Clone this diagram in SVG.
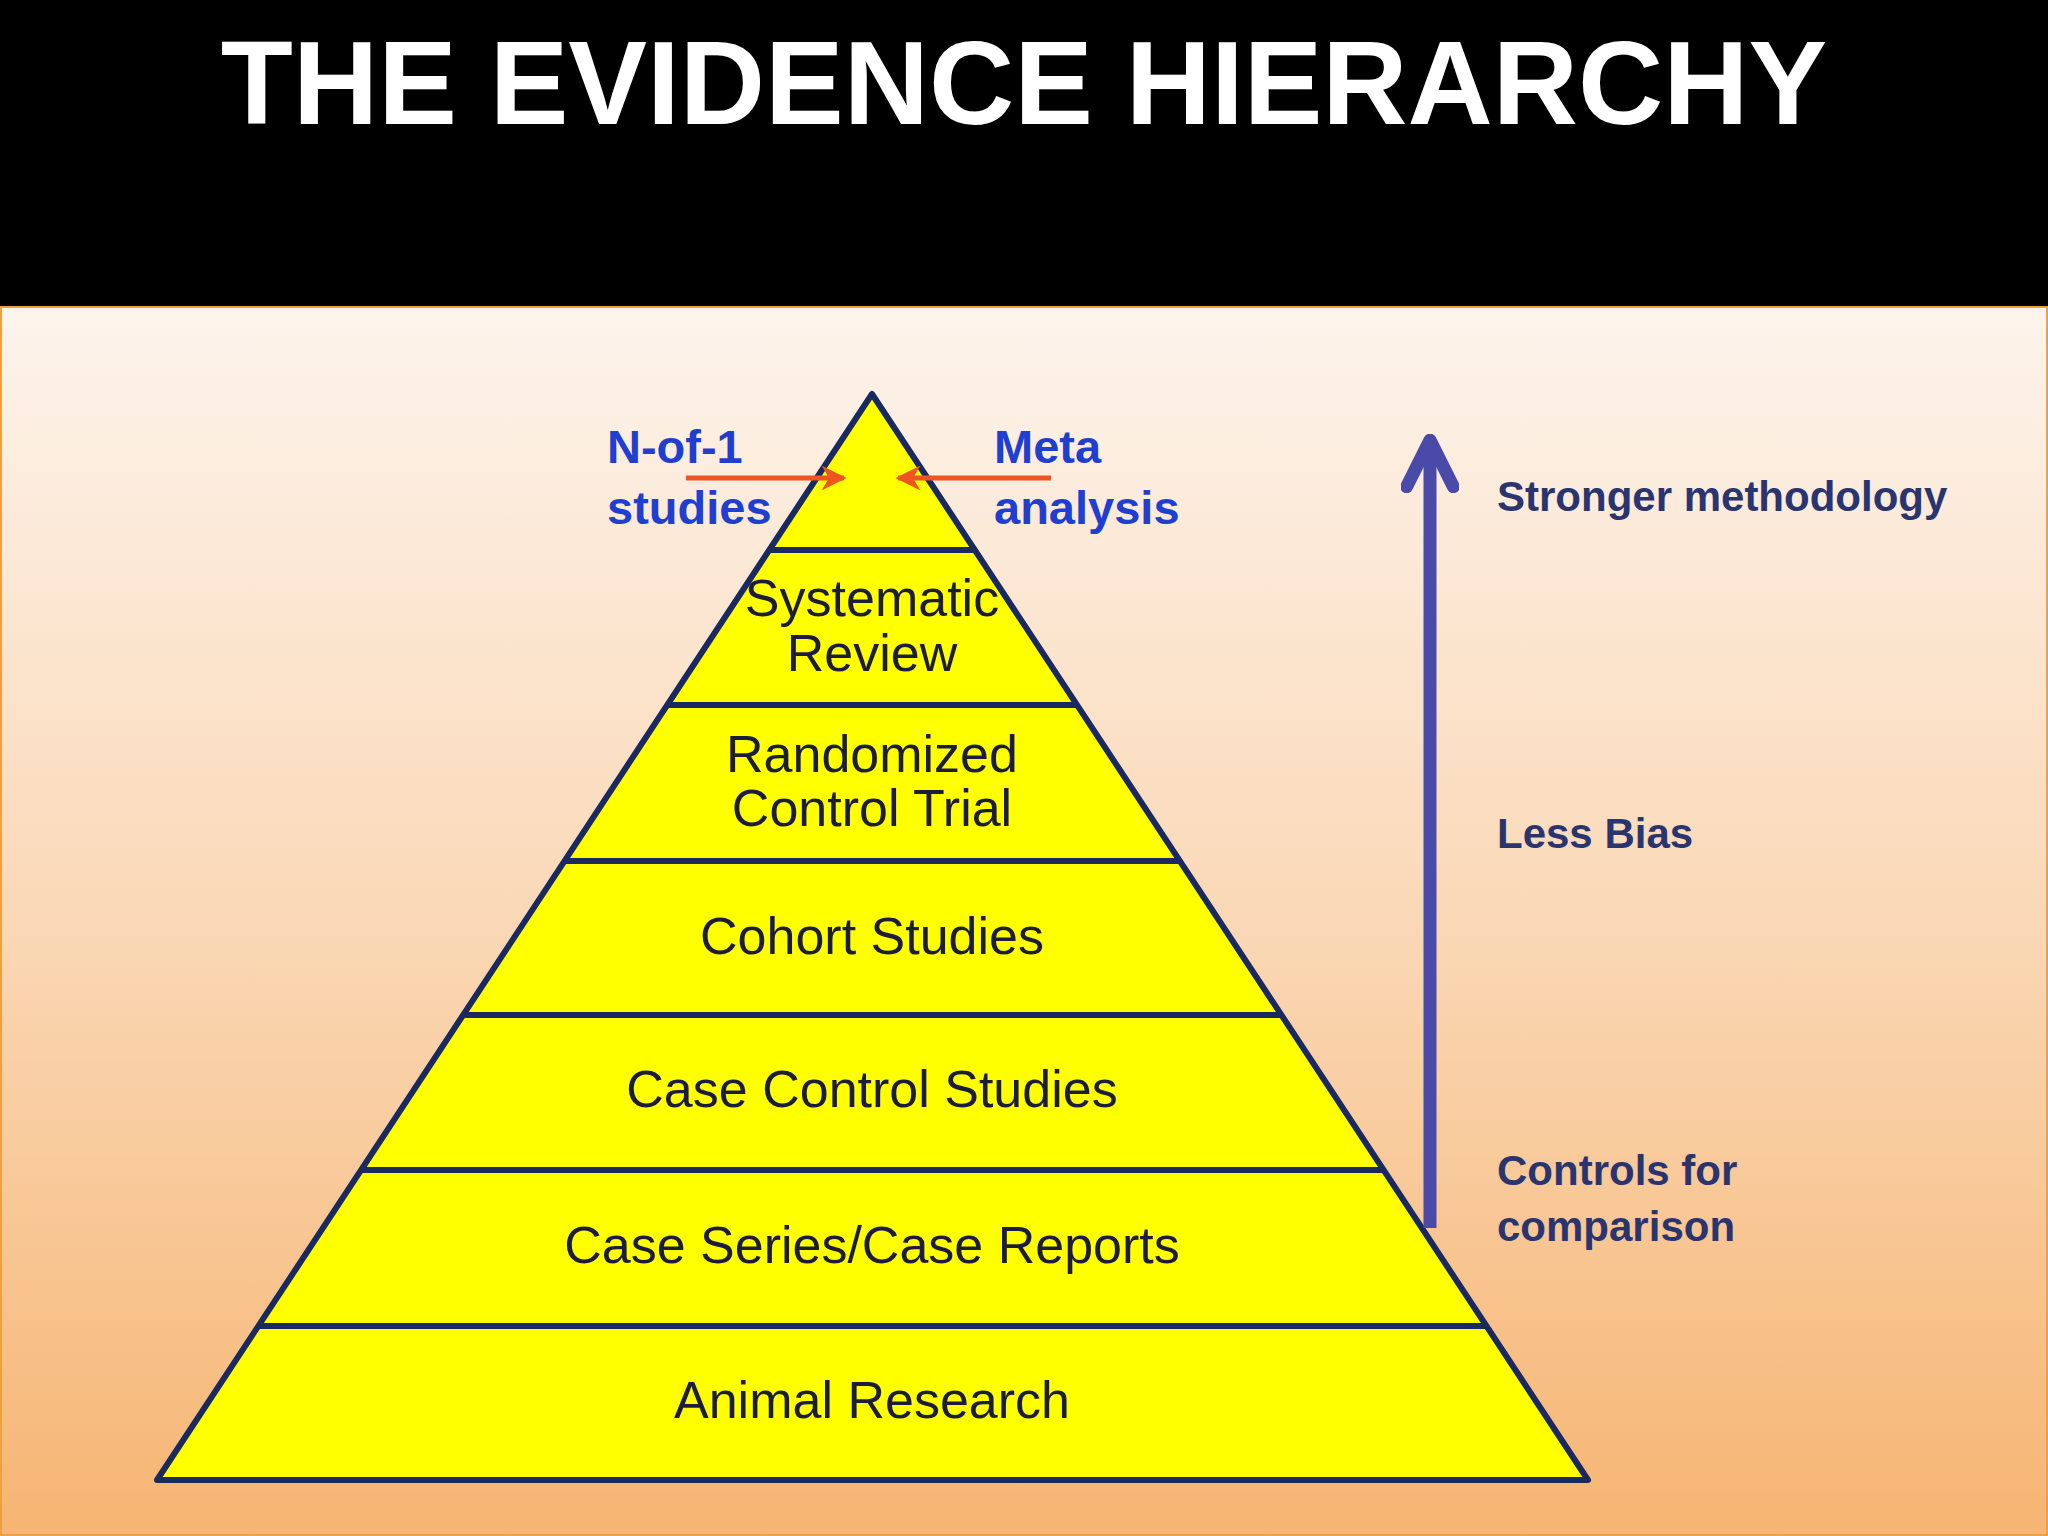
<svg xmlns="http://www.w3.org/2000/svg" width="2048" height="1536" viewBox="0 0 2048 1536">
<defs>
<linearGradient id="bg" x1="0" y1="0" x2="0" y2="1">
<stop offset="0" stop-color="#fdf4ec"/><stop offset="0.5" stop-color="#fad8b6"/><stop offset="1" stop-color="#f6b572"/>
</linearGradient>
<marker id="oa" viewBox="0 0 10 10" refX="9" refY="5" markerWidth="5" markerHeight="5" orient="auto"><path d="M0,0 L10,5 L0,10 L3,5 Z" fill="#ee5522"/></marker>
<marker id="ba" viewBox="0 0 10 10" refX="9" refY="5" markerWidth="4.5" markerHeight="4.5" orient="auto"><path d="M1,1 L9,5 L1,9" fill="none" stroke="#4a4aa8" stroke-width="2.2" stroke-linecap="round" stroke-linejoin="round"/></marker>
<style>
.t{font-family:"Liberation Sans",Arial,sans-serif;font-size:52px;fill:#1c1c3c;text-anchor:middle}
.b{font-family:"Liberation Sans",Arial,sans-serif;font-size:47px;font-weight:bold;fill:#1f3fd0}
.r{font-family:"Liberation Sans",Arial,sans-serif;font-size:42px;font-weight:bold;fill:#2a3570}
</style>
</defs>
<rect width="2048" height="1536" fill="#000"/>
<rect x="1" y="307" width="2046" height="1228" fill="url(#bg)" stroke="#f0a040" stroke-width="2"/>
<text x="1024" y="124" font-family="Liberation Sans,Arial,sans-serif" font-size="118" font-weight="bold" fill="#fff" text-anchor="middle">THE EVIDENCE HIERARCHY</text>
<g id="pyramid">
<polygon points="872,394 1588,1480 157,1480" fill="#ffff00" stroke="#1a2a60" stroke-width="6" stroke-linejoin="round"/>
</g>
<g id="connectors" stroke="#1a2a60" stroke-width="6">
<line x1="769" y1="550" x2="975" y2="550"/>
<line x1="667" y1="705" x2="1077" y2="705"/>
<line x1="564" y1="861" x2="1180" y2="861"/>
<line x1="463" y1="1015" x2="1281" y2="1015"/>
<line x1="361" y1="1170" x2="1383" y2="1170"/>
<line x1="258" y1="1326" x2="1486" y2="1326"/>
<line x1="686" y1="478" x2="844" y2="478" stroke="#ee5522" stroke-width="5" marker-end="url(#oa)"/>
<line x1="1051" y1="478" x2="898" y2="478" stroke="#ee5522" stroke-width="5" marker-end="url(#oa)"/>
<line x1="1430" y1="1228" x2="1430" y2="440" stroke="#4a4aa8" stroke-width="13" marker-end="url(#ba)"/>
</g>
<g id="n1"><text class="t" x="872" y="616">Systematic</text><text class="t" x="872" y="671">Review</text></g>
<g id="n2"><text class="t" x="872" y="772">Randomized</text><text class="t" x="872" y="826">Control Trial</text></g>
<g id="n3"><text class="t" x="872" y="954">Cohort Studies</text></g>
<g id="n4"><text class="t" x="872" y="1107">Case Control Studies</text></g>
<g id="n5"><text class="t" x="872" y="1263">Case Series/Case Reports</text></g>
<g id="n6"><text class="t" x="872" y="1418">Animal Research</text></g>
<g id="nof1"><text class="b" x="607" y="463">N-of-1</text><text class="b" x="607" y="524">studies</text></g>
<g id="meta"><text class="b" x="994" y="463">Meta</text><text class="b" x="994" y="524">analysis</text></g>
<g id="labels">
<text class="r" x="1497" y="511">Stronger methodology</text>
<text class="r" x="1497" y="848">Less Bias</text>
<text class="r" x="1497" y="1185">Controls for</text>
<text class="r" x="1497" y="1241">comparison</text>
</g>
</svg>
